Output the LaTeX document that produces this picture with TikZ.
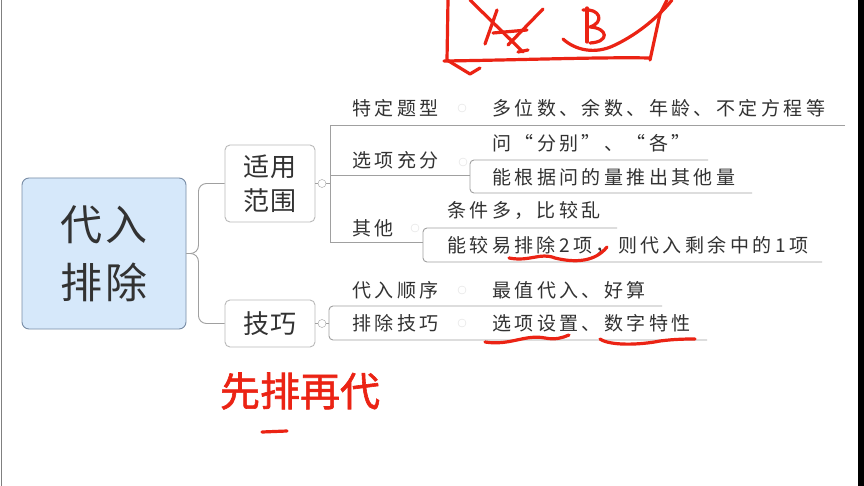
\documentclass[tikz,border=0pt]{standalone}
\usepackage{fontspec}
\setmainfont{Noto Sans CJK SC}
\newfontfamily\cjk[LetterSpace=18]{Noto Sans CJK SC}
\newfontfamily\cjkwide[LetterSpace=6]{Noto Sans CJK SC}
\newfontfamily\cjkhand[FakeBold=1.5]{Noto Sans CJK SC}
\definecolor{rootfill}{RGB}{214,232,250}
\definecolor{rootline}{RGB}{120,140,165}
\definecolor{boxline}{RGB}{185,185,185}
\definecolor{wirecol}{RGB}{160,160,160}
\definecolor{txt}{RGB}{50,50,50}
\definecolor{inkcol}{RGB}{235,35,20}
\tikzset{
    root/.style={rectangle,rounded corners=7pt,draw=rootline,fill=rootfill,line width=0.9pt,
        minimum width=164pt,minimum height=151pt,align=center,text=txt,
        font=\cjkwide\fontsize{42}{58}\selectfont},
    branch/.style={rectangle,rounded corners=5pt,draw=boxline,fill=white,line width=0.9pt,
        minimum width=90pt,align=center,text=txt,font=\cjkwide\fontsize{26}{34}\selectfont},
    topic/.style={anchor=west,inner sep=0pt,text height=16.7pt,text depth=2.3pt,text=txt,
        font=\cjk\fontsize{19}{19}\selectfont},
    knob/.style={circle,draw=wirecol,fill=white,inner sep=0pt,minimum size=8pt},
    faint/.style={circle,draw=black!12,inner sep=0pt,minimum size=8pt},
    wire/.style={draw=wirecol,line width=0.9pt},
    ink/.style={draw=inkcol,line width=3.2pt,line cap=round,line join=round},
    hand/.style={inner sep=0pt,text=inkcol,font=\cjkhand\fontsize{40}{40}\selectfont}
}

\begin{document}
\begin{tikzpicture}[x=1pt,y=-1pt]
    \useasboundingbox (0,0) rectangle (864,486);
    \fill[white] (0,0) rectangle (864,486);
    \fill[black] (858,0) rectangle (864,486);
    \draw[gray,line width=1.5pt] (1.5,0) -- (1.5,486);

    % main topic and branches
    \node[root]   (root)   at (104,253.5) {代入\\排除};
    \node[branch,minimum height=77pt] (fanwei) at (270,183.5) {适用\\范围};
    \node[branch,minimum height=47pt] (jiqiao) at (270,323.5) {技巧};
    \node[knob]   (k1)     at (322,183.5) {};
    \node[knob]   (k2)     at (322,323.5) {};

    \draw[wire,rounded corners=8pt] (root.east) -- ++(12,0) |- (fanwei.west);
    \draw[wire,rounded corners=8pt] (root.east) -- ++(12,0) |- (jiqiao.west);
    \draw[wire] (fanwei.east) -- (k1.west);
    \draw[wire] (jiqiao.east) -- (k2.west);

    % sub topics
    \node[topic]  (tixing)    at (352,108) {特定题型};
    \node[topic]  (xuanxiang) at (352,160) {选项充分};
    \node[topic]  (qita)      at (352,228) {其他};
    \node[topic]  (shunxu)    at (352,290) {代入顺序};
    \node[topic]  (paichu)    at (352,323) {排除技巧};

    \node[faint]  (d1) at (462,108) {};
    \node[faint]  (d2) at (463,162) {};
    \node[faint]  (d3) at (415,228) {};
    \node[faint]  (d4) at (462,290) {};
    \node[faint]  (d5) at (462,323) {};

    % leaves
    \node[topic]  (duowei)   at (492,108) {多位数、余数、年龄、不定方程等};
    \node[topic]  (wen)      at (492,143) {问“分别”、“各”};
    \node[topic]  (nenggen)  at (492,177) {能根据问的量推出其他量};
    \node[topic]  (tiaojian) at (447,210) {条件多，比较乱};
    \node[topic]  (jiaoyi)   at (447,245) {能较易排除2项，则代入剩余中的1项};
    \node[topic]  (zuizhi)   at (492,290) {最值代入、好算};
    \node[topic]  (shezhi)   at (492,323) {选项设置、数字特性};

    % brackets
    \coordinate (b1) at (330,183.5);
    \coordinate (b2) at (329,323.5);
    \draw[wire] (k1.east) -- (b1);
    \draw[wire] (k2.east) -- (b2);
    \draw[wire] (845,125) -- (330,125) -- (330,242) -- (423,242);
    \draw[wire] (330,175) -- (470,175);
    \draw[wire,rounded corners=4pt] (708,160) -- (470,160) -- (470,193) -- (752,193);
    \draw[wire,rounded corners=4pt] (617,228) -- (423,228) -- (423,262) -- (822,262);
    \draw[wire,rounded corners=4pt] (662,306) -- (329,306) -- (329,340) -- (707,340);

    % red notes
    \node[hand] (xianpai) at (300,391) {先排再代};
    \draw[ink] (262,432) -- (287,431);
    \draw[ink] (509,258) .. controls (530,262) and (540,252) .. (555,258)
        .. controls (575,263) and (595,262) .. (607,247);
    \draw[ink] (485,342) .. controls (510,346) and (525,334) .. (545,338)
        .. controls (555,340) and (562,338) .. (569,335);
    \draw[ink] (600,339) .. controls (610,346) and (640,345) .. (660,341)
        .. controls (675,339) and (688,339) .. (695,339);

    \draw[ink] (448,0) -- (447,60) -- (470,74) -- (480,68);
    \draw[ink] (444,61) .. controls (520,60) and (600,57) .. (650,58);
    \draw[ink] (650,60) -- (660,14) -- (667,0);
    \draw[ink] (485,44) -- (497,10);
    \draw[ink] (470,0) -- (523,52);
    \draw[ink] (493,33) -- (527,30);
    \draw[ink] (543,9) -- (508,45);
    \draw[ink] (518,52) -- (528,50);
    \draw[ink] (587,8) -- (587,42);
    \draw[ink] (583,10) .. controls (600,8) and (605,22) .. (590,27)
        .. controls (608,28) and (610,42) .. (590,43);
    \draw[ink] (563,39) .. controls (575,50) and (595,55) .. (615,45)
        .. controls (640,33) and (660,15) .. (672,0);
\end{tikzpicture}
\end{document}
